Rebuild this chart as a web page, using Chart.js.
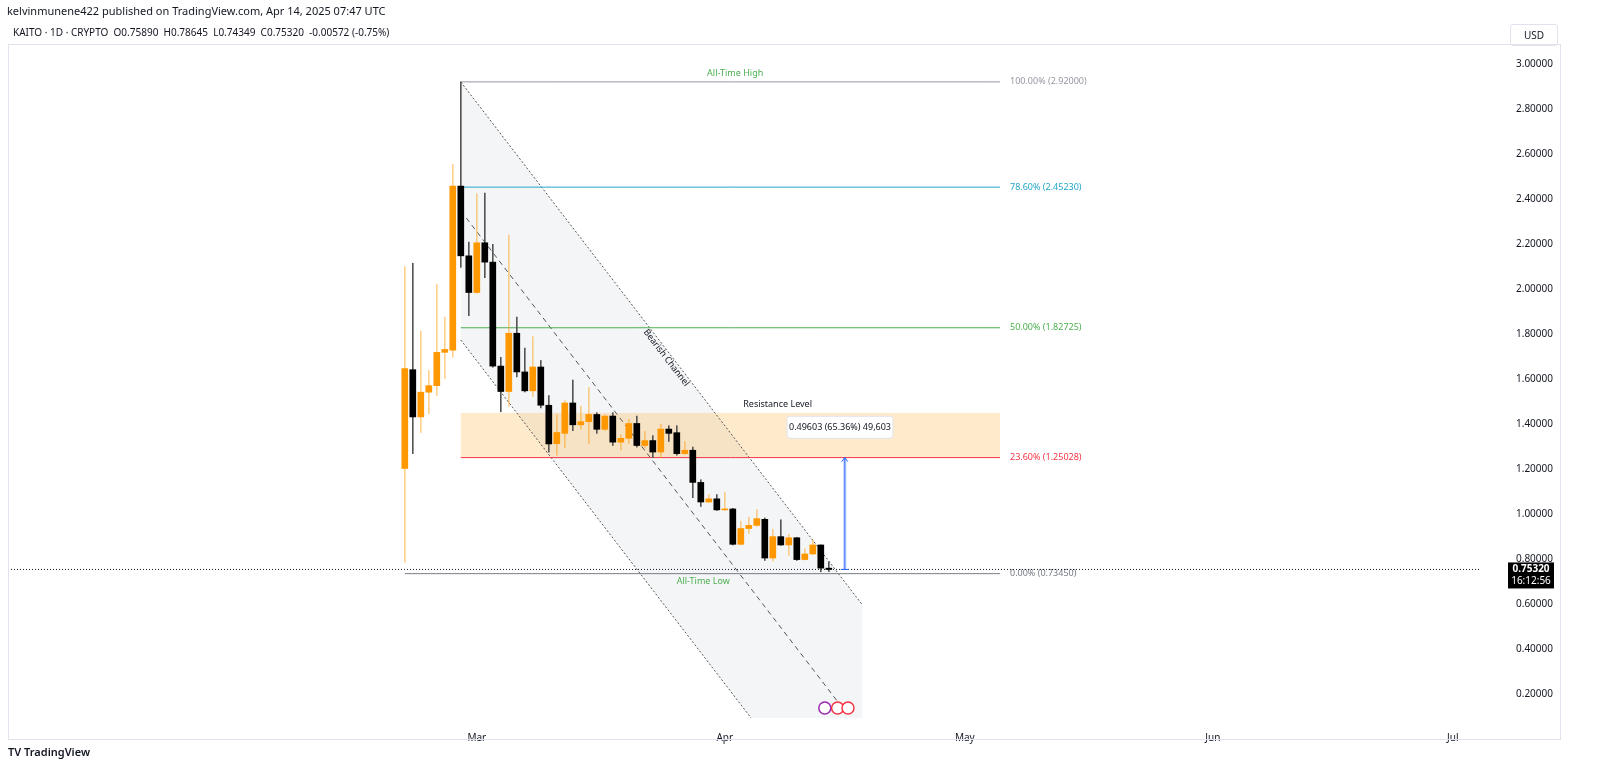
<!DOCTYPE html>
<html>
<head>
<meta charset="utf-8">
<script src="https://cdn.jsdelivr.net/npm/chart.js@4.4.1/dist/chart.umd.min.js"></script>
<style>
  html, body { margin: 0; padding: 0; background: #fff; overflow: hidden; width: 1600px; height: 782px; }
  #wrap { position: relative; width: 1600px; height: 782px; overflow: hidden; font-family: "Noto Sans", Arial, sans-serif; }
  #hdr1 { position: absolute; left: 7px; top: 4px; font-size: 11px; line-height: 14px; color: #131722; }
  #hdr2 { position: absolute; left: 13px; top: 25px; font-size: 10px; line-height: 14px; color: #131722; }
  #usd { position: absolute; left: 1510px; top: 24px; width: 46px; height: 20px; border: 1px solid #e0e3eb; border-radius: 3px; font-size: 10px; line-height: 20px; text-align: center; color: #131722; }
  #logo { position: absolute; left: 8px; top: 745px; font-size: 11px; line-height: 14px; color: #131722; font-weight: 600; }
  canvas { position: absolute; left: 0; top: 0; }
</style>
</head>
<body>
<div id="wrap">
  <canvas id="kaito" width="1600" height="782"></canvas>
  <div id="hdr1">kelvinmunene422 published on TradingView.com, Apr 14, 2025 07:47 UTC</div>
  <div id="hdr2">KAITO · 1D · CRYPTO &nbsp;O0.75890 &nbsp;H0.78645 &nbsp;L0.74349 &nbsp;C0.75320 &nbsp;-0.00572 (-0.75%)</div>
  <div id="usd">USD</div>
  <div id="logo">TV TradingView</div>
</div>
<script>
// days are counted from Mar 1 2025 (0); first candle is Feb 20
var firstDay = -9;
var opens  = [1.202,1.641,1.431,1.541,1.570,1.718,1.728,2.457,2.147,1.984,2.205,2.119,1.657,1.544,1.803,1.631,1.547,1.653,1.483,1.312,1.358,1.493,1.396,1.410,1.442,1.376,1.435,1.319,1.336,1.402,1.304,1.326,1.275,1.377,1.361,1.268,1.283,1.140,1.053,1.067,1.018,1.022,0.865,0.935,0.949,0.976,0.804,0.899,0.862,0.894,0.797,0.822,0.862,0.7589];
var closes = [1.646,1.431,1.541,1.570,1.718,1.731,2.457,2.147,1.984,2.205,2.119,1.657,1.544,1.803,1.631,1.547,1.653,1.483,1.311,1.362,1.493,1.396,1.410,1.442,1.376,1.435,1.319,1.336,1.402,1.304,1.326,1.275,1.377,1.358,1.268,1.283,1.140,1.053,1.067,1.018,1.022,0.865,0.935,0.949,0.979,0.804,0.899,0.862,0.894,0.797,0.822,0.862,0.759,0.7532];
var highs  = [2.099,2.114,1.813,1.638,2.021,1.875,2.554,2.920,2.208,2.423,2.426,2.198,1.696,2.239,1.875,1.737,1.788,1.682,1.526,1.442,1.503,1.595,1.479,1.562,1.450,1.440,1.450,1.352,1.421,1.435,1.367,1.348,1.399,1.392,1.392,1.322,1.297,1.152,1.086,1.086,1.097,1.025,0.967,0.986,1.019,0.982,0.932,0.974,0.909,0.896,0.845,0.884,0.862,0.78645];
var lows   = [0.785,1.268,1.362,1.445,1.526,1.602,1.696,2.096,1.881,1.980,2.050,1.652,1.454,1.478,1.609,1.542,1.522,1.471,1.275,1.261,1.294,1.370,1.377,1.312,1.358,1.370,1.304,1.285,1.312,1.297,1.294,1.250,1.250,1.322,1.261,1.265,1.072,1.033,1.050,1.015,1.015,0.862,0.862,0.913,0.945,0.793,0.790,0.860,0.816,0.793,0.795,0.820,0.743,0.74349];

var monthTicks  = [0, 31, 61, 92, 122];
var monthLabels = ['Mar', 'Apr', 'May', 'Jun', 'Jul'];
var priceTicks  = [0.2,0.4,0.6,0.8,1.0,1.2,1.4,1.6,1.8,2.0,2.2,2.4,2.6,2.8,3.0];

var fibLevels = [
    { ratio: '100.00%', price: 2.92,    color: '#9598a1' },
    { ratio: '78.60%',  price: 2.4523,  color: '#26a6c9' },
    { ratio: '50.00%',  price: 1.82725, color: '#4caf50' },
    { ratio: '23.60%',  price: 1.25028, color: '#f23645' },
    { ratio: '0.00%',   price: 0.7345,  color: '#787b86' }
];
var athDay = -2, fibEnd = 65.4;
var resistTop = 1.449, resistBottom = 1.25028;
var channelUpper = 2.92, channelMid = 2.347, channelLower = 1.773, channelSlope = -0.0463, channelEnd = 48.2;
var lastPrice = 0.7532;

var up = '#ff9800', down = '#000000';
var bodies = [], wicks = [], bodyColors = [], wickColors = [];
for (var i = 0; i < opens.length; i++) {
    var d = firstDay + i;
    bodies.push({ x: d, y: [opens[i], closes[i]] });
    wicks.push({ x: d, y: [lows[i], highs[i]] });
    var isUp = closes[i] >= opens[i];
    bodyColors.push(isUp ? up : down);
    wickColors.push(isUp ? 'rgba(255,152,0,0.45)' : '#555');
}

function chLine(base, day) { return base + channelSlope * (day - athDay); }

var drawings = {
    id: 'drawings',
    beforeDatasetsDraw: function(chart) {
        var c = chart.ctx, xs = chart.scales.x, ys = chart.scales.y, a = chart.chartArea;
        var X = function(v) { return xs.getPixelForValue(v); };
        var Y = function(v) { return ys.getPixelForValue(v); };
        c.save();
        c.beginPath(); c.rect(a.left, a.top, a.right - a.left, a.bottom - a.top); c.clip();

        // channel fill
        var lowEnd = athDay + (ys.min - channelLower) / channelSlope;
        c.beginPath();
        c.moveTo(X(athDay), Y(channelUpper));
        c.lineTo(X(channelEnd), Y(chLine(channelUpper, channelEnd)));
        c.lineTo(X(channelEnd), Y(ys.min));
        c.lineTo(X(lowEnd), Y(ys.min));
        c.lineTo(X(athDay), Y(channelLower));
        c.closePath();
        c.fillStyle = 'rgba(120,123,134,0.08)';
        c.fill();

        // resistance band
        c.fillStyle = 'rgba(255,152,0,0.2)';
        c.fillRect(X(athDay), Y(resistTop), X(fibEnd) - X(athDay), Y(resistBottom) - Y(resistTop));

        // channel lines
        c.strokeStyle = '#555'; c.lineWidth = 1;
        c.setLineDash([2, 2]);
        c.beginPath();
        c.moveTo(X(athDay), Y(channelUpper)); c.lineTo(X(channelEnd), Y(chLine(channelUpper, channelEnd)));
        c.moveTo(X(athDay), Y(channelLower)); c.lineTo(X(lowEnd), Y(ys.min));
        c.stroke();
        c.setLineDash([5, 4]);
        c.beginPath();
        c.moveTo(X(athDay), Y(channelMid)); c.lineTo(X(athDay + 47.5), Y(chLine(channelMid, athDay + 47.5)));
        c.stroke();

        // fib lines
        c.setLineDash([]);
        fibLevels.forEach(function(f, k) {
            var start = k === 4 ? firstDay : athDay;
            c.strokeStyle = f.color; c.lineWidth = 1;
            c.beginPath(); c.moveTo(X(start), Y(f.price)); c.lineTo(X(fibEnd), Y(f.price)); c.stroke();
            c.fillStyle = f.color; c.font = '9px "Noto Sans"'; c.textAlign = 'left'; c.textBaseline = 'middle';
            c.fillText(f.ratio + ' (' + f.price.toFixed(5) + ')', X(fibEnd) + 10, Y(f.price));
        });

        // last price dotted line
        c.strokeStyle = '#131722'; c.setLineDash([1, 2]);
        c.beginPath(); c.moveTo(a.left, Y(lastPrice)); c.lineTo(a.right, Y(lastPrice)); c.stroke();
        c.restore();
    },
    afterDatasetsDraw: function(chart) {
        var c = chart.ctx, xs = chart.scales.x, ys = chart.scales.y, a = chart.chartArea;
        var X = function(v) { return xs.getPixelForValue(v); };
        var Y = function(v) { return ys.getPixelForValue(v); };
        c.save();
        c.font = '9px "Noto Sans"'; c.textAlign = 'center'; c.textBaseline = 'middle';
        c.fillStyle = '#4caf50';
        c.fillText('All-Time High', X(32.3), Y(2.92) - 8);
        c.fillText('All-Time Low', X(28.3), Y(0.7345) + 8);
        c.fillStyle = '#131722';
        c.fillText('Resistance Level', X(37.6), Y(resistTop) - 8);

        // channel name
        var px = X(24.3), py = Y(chLine(channelUpper, 24.3));
        c.save();
        c.translate(px - 5, py + 2);
        c.rotate(Math.atan2(Y(chLine(channelUpper, 25)) - Y(chLine(channelUpper, 24)), X(25) - X(24)));
        c.fillText('Bearish Channel', 0, 0);
        c.restore();

        // measure arrow
        var mx = X(46);
        c.strokeStyle = '#2962ff'; c.lineWidth = 1;
        c.beginPath(); c.moveTo(mx, Y(lastPrice)); c.lineTo(mx, Y(resistBottom)); c.stroke();
        c.beginPath(); c.moveTo(mx - 3, Y(resistBottom) + 4); c.lineTo(mx, Y(resistBottom)); c.lineTo(mx + 3, Y(resistBottom) + 4); c.stroke();
        c.beginPath(); c.moveTo(mx - 4, Y(lastPrice)); c.lineTo(mx + 4, Y(lastPrice)); c.stroke();
        c.strokeStyle = 'rgba(41,98,255,0.35)';
        c.beginPath(); c.moveTo(mx - 1, Y(lastPrice)); c.lineTo(mx - 1, Y(resistBottom)); c.moveTo(mx + 1, Y(lastPrice)); c.lineTo(mx + 1, Y(resistBottom)); c.stroke();
        var bx = X(45.4), by = Y(1.385);
        c.fillStyle = '#fff'; c.strokeStyle = '#e0e3eb';
        c.beginPath(); c.roundRect(bx - 53, by - 11, 106, 22, 3); c.fill(); c.stroke();
        c.fillStyle = '#131722'; c.font = '9px "Noto Sans"';
        c.fillText('0.49603 (65.36%) 49,603', bx, by);

        // event icons
        var iy = a.bottom - 10;
        [[43.5, '#9c27b0'], [45.1, '#f23645'], [46.4, '#f23645']].forEach(function(e) {
            c.beginPath(); c.arc(X(e[0]), iy, 6, 0, Math.PI * 2);
            c.fillStyle = '#fff'; c.fill(); c.strokeStyle = e[1]; c.lineWidth = 1.5; c.stroke();
        });

        // last price label on axis
        var ly = Y(lastPrice);
        c.fillStyle = '#000';
        c.fillRect(a.right + 28, ly - 7, 46, 26);
        c.fillStyle = '#fff'; c.textAlign = 'center';
        c.font = 'bold 10px "Noto Sans"'; c.fillText(lastPrice.toFixed(5), a.right + 51, ly);
        c.font = '10px "Noto Sans"'; c.fillText('16:12:56', a.right + 51, ly + 12);

        // frame
        c.strokeStyle = '#e0e3eb'; c.lineWidth = 1;
        c.strokeRect(8.5, a.top - 0.5, 1552, a.bottom - a.top + 22);
        c.restore();
    }
};

var ctx = document.getElementById('kaito').getContext('2d');
window.kaitoChart = new Chart(ctx, {
    type: 'bar',
    data: {
        datasets: [{
            data: wicks,
            backgroundColor: wickColors,
            barThickness: 1,
            grouped: false,
            order: 2
        }, {
            data: bodies,
            backgroundColor: bodyColors,
            barThickness: 6,
            grouped: false,
            minBarLength: 1,
            order: 1
        }]
    },
    options: {
        responsive: false,
        animation: false,
        layout: { padding: { left: 8, top: 45, right: 0, bottom: 0 } },
        plugins: { legend: { display: false }, title: { display: false }, tooltip: { enabled: false } },
        scales: {
            x: {
                type: 'linear',
                offset: false,
                min: -58.6, max: 125.4,
                grid: { display: false },
                border: { display: false },
                afterFit: function(axis) { axis.height = 64; },
                afterBuildTicks: function(axis) { axis.ticks = monthTicks.map(function(v) { return { value: v }; }); },
                ticks: {
                    color: '#131722', font: { size: 10, family: 'Noto Sans' }, padding: 6,
                    callback: function(v) { return monthLabels[monthTicks.indexOf(v)]; }
                }
            },
            y: {
                position: 'right',
                min: 0.093, max: 3.084,
                grid: { display: false },
                border: { display: false },
                afterFit: function(axis) { axis.width = 120; },
                afterBuildTicks: function(axis) { axis.ticks = priceTicks.map(function(v) { return { value: v }; }); },
                ticks: {
                    color: '#131722', font: { size: 10, family: 'Noto Sans' }, padding: 28,
                    callback: function(v) { return v.toFixed(5); }
                }
            }
        }
    },
    plugins: [drawings]
});
</script>
</body>
</html>
